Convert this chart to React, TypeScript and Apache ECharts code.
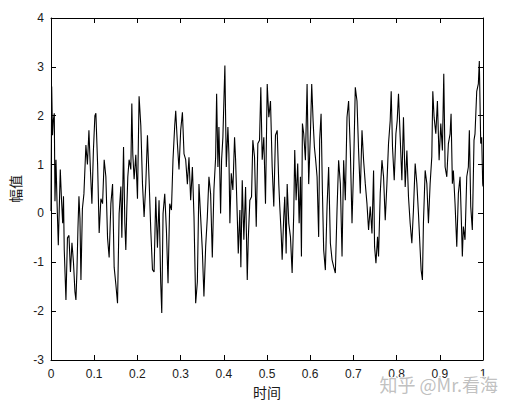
import React, { useEffect, useRef } from "react";
import * as echarts from "echarts";

const times = [
  0, 0.0016, 0.0035, 0.0053, 0.0076, 0.0092, 0.0115, 0.0139, 0.0169, 0.0215,
  0.0242, 0.027, 0.0289, 0.0307, 0.0346, 0.0381, 0.0416, 0.045, 0.0485, 0.052,
  0.0554, 0.0577, 0.06, 0.0624, 0.0647, 0.067, 0.0693, 0.0727, 0.0762, 0.0808,
  0.0843, 0.0878, 0.0912, 0.0947, 0.0982, 0.1016, 0.1039, 0.1079, 0.1115, 0.1155,
  0.1194, 0.1231, 0.127, 0.1309, 0.1346, 0.1386, 0.1425, 0.1462, 0.1501, 0.154,
  0.1577, 0.1617, 0.164, 0.1679, 0.1709, 0.1732, 0.1755, 0.1778, 0.1808, 0.1848,
  0.1871, 0.1894, 0.1924, 0.1963, 0.2002, 0.2039, 0.2079, 0.2118, 0.2155, 0.2194,
  0.2233, 0.227, 0.231, 0.2349, 0.2386, 0.2425, 0.2464, 0.2501, 0.254, 0.2564,
  0.2594, 0.2633, 0.2672, 0.2709, 0.2748, 0.2788, 0.2824, 0.2864, 0.2887, 0.2926,
  0.2963, 0.3002, 0.3042, 0.3079, 0.3118, 0.3157, 0.3194, 0.3233, 0.3273, 0.331,
  0.3349, 0.3388, 0.3425, 0.3464, 0.3503, 0.354, 0.358, 0.3619, 0.3656, 0.3695,
  0.3734, 0.3771, 0.3811, 0.3834, 0.3864, 0.3887, 0.3926, 0.3949, 0.3979, 0.4025,
  0.4058, 0.4095, 0.4118, 0.4141, 0.4173, 0.421, 0.4249, 0.4273, 0.4312, 0.4335,
  0.4372, 0.4395, 0.4427, 0.4464, 0.4504, 0.4543, 0.4566, 0.4603, 0.4642, 0.4672,
  0.4711, 0.4751, 0.4788, 0.4827, 0.4857, 0.4889, 0.4926, 0.4965, 0.5005, 0.5042,
  0.5081, 0.512, 0.5157, 0.5196, 0.5236, 0.5273, 0.5296, 0.5328, 0.5351, 0.5388,
  0.5411, 0.5443, 0.5467, 0.5504, 0.5543, 0.5582, 0.5619, 0.5642, 0.5674, 0.5711,
  0.5744, 0.5774, 0.5797, 0.582, 0.585, 0.5889, 0.5928, 0.5965, 0.6005, 0.6035,
  0.6067, 0.6097, 0.6127, 0.6159, 0.6196, 0.6219, 0.6252, 0.6282, 0.6312, 0.6351,
  0.639, 0.6427, 0.6467, 0.6506, 0.6543, 0.6582, 0.6621, 0.6658, 0.6698, 0.6737,
  0.6774, 0.6813, 0.6852, 0.6889, 0.6929, 0.6968, 0.7005, 0.7044, 0.7083, 0.712,
  0.7159, 0.7199, 0.7236, 0.7275, 0.7314, 0.7351, 0.739, 0.743, 0.7467, 0.749,
  0.7522, 0.7559, 0.7582, 0.7621, 0.7661, 0.7698, 0.7737, 0.7776, 0.7813, 0.7852,
  0.7875, 0.7905, 0.7945, 0.7984, 0.8014, 0.8044, 0.8083, 0.8122, 0.8159, 0.8199,
  0.8238, 0.8275, 0.8314, 0.8353, 0.839, 0.843, 0.8469, 0.8506, 0.8545, 0.8568,
  0.8598, 0.8621, 0.8661, 0.87, 0.8737, 0.8776, 0.8815, 0.8838, 0.8868, 0.8908,
  0.8945, 0.8984, 0.9023, 0.906, 0.9092, 0.9123, 0.9162, 0.9199, 0.9238, 0.9261,
  0.9291, 0.9314, 0.9353, 0.9393, 0.943, 0.9469, 0.9492, 0.9522, 0.9545, 0.9584,
  0.9624, 0.9661, 0.9684, 0.9716, 0.9753, 0.9792, 0.9815, 0.9855, 0.9892, 0.9915,
  0.9947, 0.997, 0.9993, 1.0,
];

const amplitudes = [
  0.05, 2.6, 1.6, 1.9, 2.05, 0.25, 1.1, 0.25, -0.65, 0.9,
  0.3, -0.2, 0.35, -0.75, -1.77, -0.5, -0.45, -1.2, -0.6, -1.0,
  -1.6, -1.77, -1.2, -0.3, 0.35, -0.1, -1.36, 0.1, 0.4, 1.4,
  1.0, 1.7, 0.9, 0.2, 1.3, 2.0, 2.05, 1.0, -0.4, 0.3,
  0.2, 1.1, 0.75, -0.5, -0.9, 0.2, 0.6, -1.1, -1.45, -1.84,
  0.0, 0.55, -0.5, 1.36, -0.2, -0.75, 0.1, 0.75, 1.1, 0.9,
  2.25, 1.2, 0.7, 1.2, 0.3, 2.4, 1.8, 0.6, -0.07, 0.6,
  1.6, 0.7, -0.35, -1.15, -1.2, 0.34, -0.7, 0.27, -1.43, -2.04,
  0.0, 0.4, -0.35, -1.43, 0.2, 0.07, 1.1, 1.8, 2.1, 1.43,
  0.9, 1.7, 2.07, 1.22, 1.1, 0.6, 1.15, 0.27, 0.95, -0.07,
  -1.84, -1.4, 0.6, -0.07, -0.75, -1.7, -0.68, -0.07, 0.75, 0.4,
  -0.9, 0.48, 1.15, 2.45, 0.95, 1.77, 0.0, 1.1, 1.56, 3.03,
  0.95, 1.77, 1.22, -0.2, 0.82, 0.48, 1.56, 1.1, -0.07, -0.82,
  0.07, -1.1, 0.68, -0.54, 0.54, -1.36, -0.54, 0.27, 0.34, 1.5,
  1.16, -0.27, 1.43, 1.5, 2.58, 1.1, 1.56, 0.2, 2.65, 1.97,
  2.3, 0.95, 0.14, 1.6, 1.7, 0.6, 0.14, -0.41, -0.95, -0.07,
  0.34, -0.82, 0.6, -0.2, -0.48, -1.22, 0.0, 1.3, 0.27, 1.02,
  -0.2, 0.75, -0.88, 1.84, 1.63, 1.09, 2.65, 0.6, 1.63, 2.65,
  1.9, 1.36, 1.09, 0.75, -0.48, 1.5, 2.04, 0.48, -0.75, -1.16,
  0.14, 0.95, -0.61, -0.95, -1.09, -1.22, 0.07, 1.09, 0.61, -0.88,
  1.09, 0.27, 1.97, 2.3, 1.29, -0.2, 0.95, 2.58, 2.3, 1.29,
  0.41, 1.7, 1.09, 0.61, 0.2, -0.34, 0.14, -0.41, 0.88, -0.68,
  -1.02, -0.48, -0.88, 0.41, 1.09, 0.75, -0.14, 0.61, 1.43, 1.9,
  2.5, 1.36, 0.68, 1.63, 1.9, 2.45, 1.56, 0.68, 1.97, 0.54,
  1.29, 0.34, -0.2, -0.61, 0.07, 1.02, 0.61, 0.0, -0.75, -1.16,
  -1.36, -0.2, 0.88, 0.61, -0.2, 0.61, 1.16, 2.5, 1.97, 1.63,
  2.3, 1.09, 1.84, 1.29, 2.86, 0.95, 0.75, 1.43, 1.63, 2.04,
  0.61, 0.88, 0.2, -0.68, 0.41, 0.75, 0.07, -0.88, -0.27, -0.54,
  0.75, 0.95, 1.7, 0.14, -0.34, 1.5, 1.63, 2.5, 2.65, 3.12,
  1.43, 1.56, 0.61, 0.55,
];

const xAxisTitle = "时间";
const yAxisTitle = "幅值";
const watermark = "知乎 @Mr.看海";

const labelFont = "'Liberation Sans', Arial, sans-serif";
const cjkFont = "'Noto Sans CJK SC', sans-serif";

export default function App() {
  const ref = useRef<HTMLDivElement>(null);
  useEffect(() => {
    if (!ref.current) return;
    const chart = echarts.init(ref.current, undefined, { renderer: "svg" });
    const axisCommon = {
      type: "value" as const,
      axisLine: { show: true, onZero: false, lineStyle: { color: "#000", width: 1 } },
      axisTick: { show: true, inside: true, length: 5, lineStyle: { color: "#000", width: 1 } },
      splitLine: { show: false },
    };
    chart.setOption({
      animation: false,
      backgroundColor: "#fff",
      grid: { left: 50, top: 18, width: 433, height: 342, containLabel: false },
      xAxis: [
        {
          ...axisCommon,
          position: "bottom",
          min: 0,
          max: 1,
          interval: 0.1,
          axisLabel: { color: "#1a1a1a", fontSize: 12, fontFamily: labelFont, margin: 8 },
          name: xAxisTitle,
          nameLocation: "middle",
          nameGap: 25,
          nameTextStyle: { color: "#1a1a1a", fontSize: 14, fontFamily: cjkFont },
        },
        {
          ...axisCommon,
          position: "top",
          min: 0,
          max: 1,
          interval: 0.1,
          axisLabel: { show: false },
        },
      ],
      yAxis: [
        {
          ...axisCommon,
          position: "left",
          min: -3,
          max: 4,
          interval: 1,
          axisLabel: { color: "#1a1a1a", fontSize: 12, fontFamily: labelFont, margin: 7 },
          name: yAxisTitle,
          nameLocation: "middle",
          nameGap: 29,
          nameRotate: 90,
          nameTextStyle: { color: "#1a1a1a", fontSize: 14, fontFamily: cjkFont },
        },
        {
          ...axisCommon,
          position: "right",
          min: -3,
          max: 4,
          interval: 1,
          axisLabel: { show: false },
        },
      ],
      series: [
        {
          type: "line",
          xAxisIndex: 0,
          yAxisIndex: 0,
          data: times.map((t, i) => [t, amplitudes[i]]),
          showSymbol: false,
          symbol: "none",
          lineStyle: { color: "#000", width: 1.1 },
          silent: true,
        },
      ],
      graphic: [
        {
          type: "text",
          right: 6,
          top: 374,
          z: 100,
          style: {
            text: watermark,
            fill: "rgba(185,185,185,0.9)",
            font: `18px ${cjkFont}`,
            stroke: "rgba(255,255,255,0.85)",
            lineWidth: 2,
          },
        },
      ],
    });
    return () => chart.dispose();
  }, []);
  return (
    <div
      ref={ref}
      style={{ position: "absolute", left: 0, top: 0, width: 505, height: 405 }}
    />
  );
}
